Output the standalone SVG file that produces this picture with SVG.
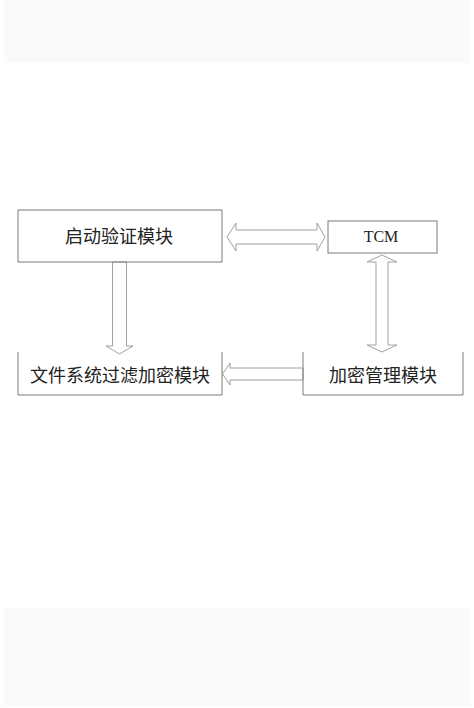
<svg xmlns="http://www.w3.org/2000/svg" width="474" height="708" viewBox="0 0 474 708">
<style>
.box{fill:none;stroke:#7a7a7a;stroke-width:1}
.arr{fill:#fff;stroke:#a0a0a0;stroke-width:1}
.cn{font-family:"Liberation Serif","Noto Sans CJK SC",serif;font-size:18px;fill:#222;text-anchor:middle}
.en{font-family:"Liberation Serif",serif;font-size:16px;fill:#222;text-anchor:middle}
</style>
<rect x="0" y="0" width="474" height="708" fill="#fff"/>
<rect x="4" y="0" width="466" height="63" fill="#fafafa"/>
<rect x="4" y="608" width="466" height="98" fill="#fafafa"/>
<g id="connectors">
<polygon class="arr" points="227,237 236,223 236,230 317,230 317,223 325,237 317,251 317,244 236,244 236,251"/>
<polygon class="arr" points="112.5,262 126.5,262 126.5,346 133,346 119.5,354 106,346 112.5,346"/>
<polygon class="arr" points="382,255 397,262 388,262 388,345 397,345 382,352 367,345 376,345 376,262 367,262"/>
<polygon class="arr" points="222.5,374 230,363 230,368 303,368 303,380 230,380 230,385"/>
</g>
<g id="node-startup">
<rect class="box" x="18" y="210" width="204" height="52"/>
<text class="cn" x="119" y="243">启动验证模块</text>
</g>
<g id="node-tcm">
<rect class="box" x="328" y="221" width="109" height="32"/>
<text class="en" x="381" y="242">TCM</text>
</g>
<g id="node-filter">
<path class="box" d="M18,352 V395 H222 V352"/>
<text class="cn" x="120" y="382">文件系统过滤加密模块</text>
</g>
<g id="node-encmgr">
<path class="box" d="M303,352 V395 H463 V352"/>
<text class="cn" x="383" y="382">加密管理模块</text>
</g>
</svg>
